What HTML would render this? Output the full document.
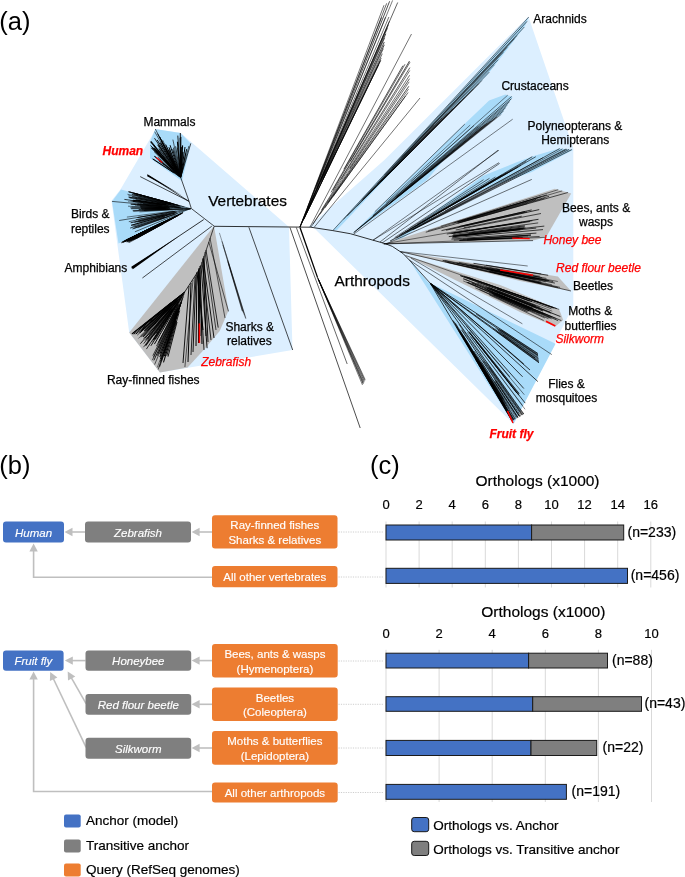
<!DOCTYPE html>
<html><head><meta charset="utf-8"><style>
html,body{margin:0;padding:0;background:#fff;}
svg{display:block;}
text{font-family:"Liberation Sans",Arial,sans-serif;}
</style></head><body>
<svg width="685" height="877" viewBox="0 0 685 877">
<rect width="685" height="877" fill="#fff"/>
<g id="tree">
<polygon points="155.5,129.6 180.5,132.8 289.0,227.0 292.5,350.0 160.0,372.4 129.2,332.4 111.5,200.8 120.4,189.4" fill="#dcefff"/>
<polygon points="155.3,128.9 180.3,132.9 190.8,143.4 182.0,181.0 150.0,158.3 150.0,142.0" fill="#a9dbf9"/>
<polygon points="121.0,189.4 191.3,208.5 118.5,243.5 112.0,201.4" fill="#a9dbf9"/>
<polygon points="214.0,226.0 228.5,310.5 219.7,331.0 205.0,348.5 187.6,367.4 159.9,372.4 129.2,332.4" fill="#bfbfbf"/>
<polygon points="308.0,227.3 384.4,160.0 528.4,16.5 573.3,148.0 573.3,306.0 513.5,424.0 314.0,228.0" fill="#dcefff"/>
<polygon points="528.8,17.0 333.0,230.0 337.0,230.0 394.8,168.8 432.0,126.7 451.9,109.3 478.0,84.5 486.7,75.8 525.1,26.1" fill="#a9dbf9"/>
<polygon points="505.3,94.4 512.7,96.9 501.5,114.2 481.7,126.7 444.5,158.9 427.0,180.0 352.0,234.0 407.2,180.0 464.3,124.2 489.1,100.6" fill="#a9dbf9"/>
<polygon points="559.2,148.6 573.4,149.7 531.8,172.0 482.5,190.0 440.0,212.0 400.0,240.0 395.0,240.0 430.0,215.0 482.5,176.0 515.4,162.8 532.9,156.3" fill="#a9dbf9"/>
<polygon points="409.3,260.0 428.0,282.0 555.6,343.7 513.5,424.0" fill="#a9dbf9"/>
<polygon points="383.8,243.9 554.8,188.7 571.2,193.5 546.0,237.3 533.0,240.6" fill="#bfbfbf"/>
<polygon points="400.3,251.6 557.9,276.5 571.0,291.0 520.0,281.0" fill="#bfbfbf"/>
<polygon points="405.5,255.5 500.0,285.0 559.2,309.4 563.2,320.0 555.3,326.5 520.0,312.0" fill="#bfbfbf"/>
<line x1="180.0" y1="177.0" x2="153.5" y2="159.1" stroke="#000" stroke-width="0.54"/>
<line x1="179.0" y1="176.3" x2="158.5" y2="160.7" stroke="#000" stroke-width="0.75"/>
<line x1="178.7" y1="175.9" x2="158.4" y2="159.5" stroke="#000" stroke-width="0.55"/>
<line x1="177.0" y1="174.2" x2="157.9" y2="157.2" stroke="#000" stroke-width="0.61"/>
<line x1="176.4" y1="173.3" x2="154.1" y2="151.6" stroke="#000" stroke-width="0.70"/>
<line x1="180.5" y1="177.3" x2="151.7" y2="146.8" stroke="#000" stroke-width="0.64"/>
<line x1="180.2" y1="176.9" x2="156.3" y2="150.8" stroke="#000" stroke-width="0.91"/>
<line x1="178.1" y1="174.4" x2="153.6" y2="145.8" stroke="#000" stroke-width="0.69"/>
<line x1="180.4" y1="177.1" x2="159.1" y2="149.7" stroke="#000" stroke-width="0.60"/>
<line x1="178.9" y1="174.9" x2="157.7" y2="145.2" stroke="#000" stroke-width="0.79"/>
<line x1="179.4" y1="175.6" x2="154.5" y2="138.2" stroke="#000" stroke-width="0.85"/>
<line x1="178.4" y1="173.8" x2="157.2" y2="139.9" stroke="#000" stroke-width="0.94"/>
<line x1="179.6" y1="175.5" x2="154.7" y2="131.7" stroke="#000" stroke-width="0.56"/>
<line x1="177.8" y1="172.1" x2="161.2" y2="141.2" stroke="#000" stroke-width="0.74"/>
<line x1="178.2" y1="172.8" x2="157.6" y2="133.7" stroke="#000" stroke-width="0.79"/>
<line x1="179.6" y1="175.4" x2="159.7" y2="137.1" stroke="#000" stroke-width="0.80"/>
<line x1="179.2" y1="174.6" x2="159.6" y2="136.8" stroke="#000" stroke-width="0.97"/>
<line x1="178.6" y1="173.4" x2="165.2" y2="147.3" stroke="#000" stroke-width="0.85"/>
<line x1="177.8" y1="171.6" x2="162.5" y2="140.0" stroke="#000" stroke-width="0.64"/>
<line x1="178.9" y1="173.6" x2="167.9" y2="149.6" stroke="#000" stroke-width="0.73"/>
<line x1="180.4" y1="176.8" x2="168.9" y2="149.9" stroke="#000" stroke-width="0.88"/>
<line x1="180.2" y1="176.1" x2="168.9" y2="147.2" stroke="#000" stroke-width="0.94"/>
<line x1="179.9" y1="175.0" x2="170.1" y2="145.2" stroke="#000" stroke-width="0.94"/>
<line x1="179.5" y1="172.6" x2="173.4" y2="147.6" stroke="#000" stroke-width="0.71"/>
<line x1="179.7" y1="172.4" x2="172.9" y2="139.6" stroke="#000" stroke-width="0.58"/>
<line x1="180.5" y1="176.1" x2="175.6" y2="146.3" stroke="#000" stroke-width="0.74"/>
<line x1="180.5" y1="175.9" x2="177.4" y2="147.5" stroke="#000" stroke-width="0.71"/>
<line x1="180.4" y1="173.9" x2="177.8" y2="135.6" stroke="#000" stroke-width="0.85"/>
<line x1="180.6" y1="173.5" x2="179.8" y2="137.8" stroke="#000" stroke-width="0.53"/>
<line x1="180.7" y1="172.6" x2="180.9" y2="136.9" stroke="#000" stroke-width="0.90"/>
<line x1="180.7" y1="175.1" x2="181.1" y2="147.1" stroke="#000" stroke-width="0.82"/>
<line x1="180.7" y1="177.1" x2="181.5" y2="147.2" stroke="#000" stroke-width="0.58"/>
<line x1="180.7" y1="177.2" x2="182.0" y2="151.2" stroke="#000" stroke-width="0.58"/>
<line x1="180.8" y1="175.6" x2="182.4" y2="152.2" stroke="#000" stroke-width="0.94"/>
<line x1="180.8" y1="176.8" x2="183.2" y2="152.1" stroke="#000" stroke-width="0.67"/>
<line x1="180.8" y1="176.9" x2="185.0" y2="147.0" stroke="#000" stroke-width="1.00"/>
<line x1="181.2" y1="175.1" x2="185.7" y2="153.3" stroke="#000" stroke-width="0.55"/>
<line x1="181.0" y1="176.2" x2="188.9" y2="146.0" stroke="#000" stroke-width="0.58"/>
<line x1="175.3" y1="173.0" x2="154.9" y2="156.3" stroke="#000" stroke-width="0.67"/>
<line x1="180.6" y1="177.3" x2="156.3" y2="151.2" stroke="#000" stroke-width="1.09"/>
<line x1="177.1" y1="172.8" x2="158.9" y2="148.5" stroke="#000" stroke-width="0.78"/>
<line x1="176.8" y1="171.9" x2="158.1" y2="144.4" stroke="#000" stroke-width="0.99"/>
<line x1="179.8" y1="175.9" x2="160.4" y2="142.7" stroke="#000" stroke-width="1.09"/>
<line x1="178.2" y1="172.0" x2="165.7" y2="144.5" stroke="#000" stroke-width="0.97"/>
<line x1="179.4" y1="174.0" x2="169.4" y2="148.5" stroke="#000" stroke-width="0.61"/>
<line x1="180.2" y1="175.6" x2="172.7" y2="149.3" stroke="#000" stroke-width="0.95"/>
<line x1="180.4" y1="174.3" x2="177.4" y2="141.8" stroke="#000" stroke-width="1.09"/>
<line x1="180.7" y1="174.8" x2="181.0" y2="146.7" stroke="#000" stroke-width="0.71"/>
<line x1="180.8" y1="176.1" x2="182.6" y2="145.4" stroke="#000" stroke-width="1.05"/>
<line x1="181.3" y1="174.6" x2="186.6" y2="149.2" stroke="#000" stroke-width="1.00"/>
<line x1="180.7" y1="177.5" x2="155.3" y2="129.0" stroke="#000" stroke-width="0.60"/>
<line x1="173.7" y1="168.9" x2="150.9" y2="141.1" stroke="#000" stroke-width="0.91"/>
<line x1="174.8" y1="172.8" x2="154.2" y2="156.2" stroke="#000" stroke-width="0.92"/>
<line x1="172.8" y1="169.1" x2="150.6" y2="145.5" stroke="#000" stroke-width="0.76"/>
<line x1="172.0" y1="168.6" x2="151.7" y2="147.9" stroke="#000" stroke-width="0.67"/>
<line x1="176.8" y1="172.8" x2="150.9" y2="141.9" stroke="#000" stroke-width="0.92"/>
<line x1="172.7" y1="168.0" x2="150.6" y2="141.9" stroke="#000" stroke-width="0.86"/>
<line x1="174.4" y1="170.8" x2="154.4" y2="149.8" stroke="#000" stroke-width="0.61"/>
<line x1="173.8" y1="172.9" x2="152.6" y2="158.9" stroke="#000" stroke-width="0.97"/>
<line x1="172.4" y1="169.2" x2="151.3" y2="148.0" stroke="#000" stroke-width="0.68"/>
<line x1="175.9" y1="172.2" x2="153.9" y2="147.6" stroke="#000" stroke-width="0.83"/>
<line x1="175.1" y1="171.3" x2="154.4" y2="148.3" stroke="#000" stroke-width="0.96"/>
<line x1="174.9" y1="171.4" x2="152.4" y2="147.7" stroke="#000" stroke-width="0.96"/>
<line x1="180.7" y1="177.5" x2="180.3" y2="133.0" stroke="#000" stroke-width="0.90"/>
<line x1="180.7" y1="177.5" x2="190.8" y2="143.4" stroke="#000" stroke-width="0.70"/>
<line x1="180.7" y1="177.5" x2="189.1" y2="201.4" stroke="#000" stroke-width="0.70"/>
<line x1="189.1" y1="201.4" x2="191.3" y2="208.5" stroke="#000" stroke-width="0.70"/>
<line x1="189.1" y1="201.4" x2="140.2" y2="176.6" stroke="#000" stroke-width="0.70"/>
<line x1="189.1" y1="201.4" x2="147.5" y2="175.1" stroke="#000" stroke-width="0.70"/>
<polygon points="147.5,174.3 147.2,176.3 182,195.5" fill="#000"/>
<line x1="168.6" y1="202.6" x2="128.4" y2="191.6" stroke="#000" stroke-width="0.61"/>
<line x1="190.4" y1="208.6" x2="130.2" y2="192.1" stroke="#000" stroke-width="0.47"/>
<line x1="171.9" y1="203.5" x2="134.4" y2="193.3" stroke="#000" stroke-width="0.59"/>
<line x1="177.9" y1="205.2" x2="133.5" y2="193.1" stroke="#000" stroke-width="0.61"/>
<line x1="172.9" y1="203.8" x2="137.1" y2="194.1" stroke="#000" stroke-width="0.62"/>
<line x1="184.5" y1="207.0" x2="129.1" y2="191.9" stroke="#000" stroke-width="0.60"/>
<line x1="173.9" y1="204.1" x2="128.4" y2="191.8" stroke="#000" stroke-width="0.58"/>
<line x1="179.6" y1="205.8" x2="133.6" y2="193.8" stroke="#000" stroke-width="0.68"/>
<line x1="178.9" y1="205.8" x2="133.7" y2="194.6" stroke="#000" stroke-width="0.78"/>
<line x1="171.1" y1="204.2" x2="127.4" y2="194.2" stroke="#000" stroke-width="0.50"/>
<line x1="169.5" y1="204.1" x2="128.3" y2="195.3" stroke="#000" stroke-width="0.45"/>
<line x1="180.8" y1="206.7" x2="138.0" y2="198.0" stroke="#000" stroke-width="0.50"/>
<line x1="175.5" y1="205.8" x2="128.4" y2="197.0" stroke="#000" stroke-width="0.76"/>
<line x1="174.3" y1="205.9" x2="129.6" y2="198.2" stroke="#000" stroke-width="0.46"/>
<line x1="168.4" y1="205.3" x2="134.9" y2="200.3" stroke="#000" stroke-width="0.78"/>
<line x1="179.5" y1="207.1" x2="124.4" y2="199.4" stroke="#000" stroke-width="0.73"/>
<line x1="180.7" y1="207.4" x2="130.5" y2="201.0" stroke="#000" stroke-width="0.54"/>
<line x1="183.4" y1="207.9" x2="128.0" y2="201.6" stroke="#000" stroke-width="0.41"/>
<line x1="180.6" y1="207.7" x2="137.6" y2="203.6" stroke="#000" stroke-width="0.53"/>
<line x1="179.0" y1="207.7" x2="137.2" y2="204.3" stroke="#000" stroke-width="0.79"/>
<line x1="168.5" y1="207.2" x2="137.0" y2="205.1" stroke="#000" stroke-width="0.51"/>
<line x1="173.0" y1="207.7" x2="134.9" y2="205.4" stroke="#000" stroke-width="0.45"/>
<line x1="170.0" y1="207.9" x2="128.0" y2="206.2" stroke="#000" stroke-width="0.50"/>
<line x1="169.9" y1="208.1" x2="131.5" y2="207.0" stroke="#000" stroke-width="0.68"/>
<line x1="189.5" y1="208.7" x2="130.2" y2="207.8" stroke="#000" stroke-width="0.57"/>
<line x1="169.7" y1="208.7" x2="131.1" y2="208.7" stroke="#000" stroke-width="0.72"/>
<line x1="171.6" y1="209.0" x2="138.7" y2="209.5" stroke="#000" stroke-width="0.75"/>
<line x1="183.2" y1="209.0" x2="132.7" y2="210.7" stroke="#000" stroke-width="0.77"/>
<line x1="187.9" y1="208.8" x2="133.3" y2="211.4" stroke="#000" stroke-width="0.50"/>
<line x1="187.2" y1="208.9" x2="139.5" y2="211.9" stroke="#000" stroke-width="0.48"/>
<line x1="168.1" y1="203.2" x2="131.8" y2="194.4" stroke="#000" stroke-width="0.74"/>
<line x1="169.7" y1="204.0" x2="138.3" y2="197.1" stroke="#000" stroke-width="0.61"/>
<line x1="171.8" y1="204.8" x2="132.2" y2="196.7" stroke="#000" stroke-width="0.88"/>
<line x1="166.0" y1="204.1" x2="129.0" y2="197.2" stroke="#000" stroke-width="0.65"/>
<line x1="166.5" y1="204.8" x2="135.9" y2="199.9" stroke="#000" stroke-width="1.02"/>
<line x1="165.6" y1="205.0" x2="132.9" y2="200.2" stroke="#000" stroke-width="1.09"/>
<line x1="161.6" y1="205.0" x2="132.7" y2="201.3" stroke="#000" stroke-width="0.92"/>
<line x1="167.7" y1="206.2" x2="143.1" y2="203.5" stroke="#000" stroke-width="0.66"/>
<line x1="162.9" y1="206.1" x2="140.1" y2="203.9" stroke="#000" stroke-width="0.68"/>
<line x1="161.7" y1="206.5" x2="130.7" y2="204.2" stroke="#000" stroke-width="0.94"/>
<line x1="169.2" y1="207.5" x2="139.8" y2="205.9" stroke="#000" stroke-width="0.83"/>
<line x1="166.8" y1="207.8" x2="140.4" y2="206.9" stroke="#000" stroke-width="1.08"/>
<line x1="165.6" y1="208.5" x2="141.0" y2="208.3" stroke="#000" stroke-width="1.08"/>
<line x1="168.0" y1="208.8" x2="144.8" y2="208.9" stroke="#000" stroke-width="0.79"/>
<line x1="166.3" y1="209.3" x2="141.9" y2="209.9" stroke="#000" stroke-width="0.85"/>
<line x1="169.3" y1="209.5" x2="143.7" y2="210.5" stroke="#000" stroke-width="0.80"/>
<line x1="183.0" y1="212.5" x2="126.1" y2="239.9" stroke="#000" stroke-width="0.62"/>
<line x1="170.4" y1="218.6" x2="121.8" y2="242.2" stroke="#000" stroke-width="0.83"/>
<line x1="161.8" y1="222.9" x2="126.1" y2="240.2" stroke="#000" stroke-width="0.66"/>
<line x1="180.0" y1="214.0" x2="123.0" y2="242.0" stroke="#000" stroke-width="0.82"/>
<line x1="163.1" y1="222.3" x2="121.4" y2="242.8" stroke="#000" stroke-width="0.81"/>
<line x1="163.9" y1="222.0" x2="129.9" y2="238.9" stroke="#000" stroke-width="0.76"/>
<line x1="163.5" y1="222.3" x2="123.3" y2="242.3" stroke="#000" stroke-width="0.91"/>
<line x1="162.3" y1="223.0" x2="125.0" y2="241.6" stroke="#000" stroke-width="0.85"/>
<line x1="183.2" y1="212.5" x2="130.9" y2="238.8" stroke="#000" stroke-width="0.68"/>
<line x1="163.9" y1="222.3" x2="126.9" y2="241.0" stroke="#000" stroke-width="0.81"/>
<line x1="167.8" y1="220.4" x2="128.1" y2="240.6" stroke="#000" stroke-width="0.50"/>
<line x1="166.4" y1="221.2" x2="128.4" y2="240.6" stroke="#000" stroke-width="0.77"/>
<line x1="182.5" y1="212.9" x2="126.4" y2="241.8" stroke="#000" stroke-width="0.63"/>
<line x1="177.9" y1="215.3" x2="126.8" y2="241.7" stroke="#000" stroke-width="0.60"/>
<line x1="161.6" y1="223.9" x2="129.7" y2="240.5" stroke="#000" stroke-width="0.69"/>
<line x1="168.5" y1="220.4" x2="127.3" y2="241.9" stroke="#000" stroke-width="0.81"/>
<line x1="182.5" y1="213.1" x2="133.8" y2="238.6" stroke="#000" stroke-width="0.63"/>
<line x1="177.4" y1="215.8" x2="130.1" y2="240.8" stroke="#000" stroke-width="0.51"/>
<line x1="178.3" y1="215.4" x2="129.3" y2="241.3" stroke="#000" stroke-width="0.85"/>
<line x1="177.9" y1="215.6" x2="131.4" y2="240.5" stroke="#000" stroke-width="0.73"/>
<line x1="181.8" y1="213.5" x2="128.1" y2="242.4" stroke="#000" stroke-width="0.60"/>
<line x1="163.8" y1="223.3" x2="137.0" y2="237.9" stroke="#000" stroke-width="0.73"/>
<line x1="163.3" y1="223.7" x2="133.2" y2="240.0" stroke="#000" stroke-width="0.63"/>
<line x1="163.9" y1="223.4" x2="135.7" y2="238.8" stroke="#000" stroke-width="0.79"/>
<line x1="173.2" y1="218.4" x2="129.1" y2="242.6" stroke="#000" stroke-width="0.57"/>
<line x1="160.0" y1="223.6" x2="124.2" y2="241.0" stroke="#000" stroke-width="0.95"/>
<line x1="155.1" y1="226.1" x2="130.3" y2="238.1" stroke="#000" stroke-width="0.61"/>
<line x1="160.9" y1="223.2" x2="131.5" y2="237.6" stroke="#000" stroke-width="0.75"/>
<line x1="163.4" y1="222.1" x2="134.2" y2="236.3" stroke="#000" stroke-width="1.02"/>
<line x1="158.5" y1="224.5" x2="128.3" y2="239.3" stroke="#000" stroke-width="0.66"/>
<line x1="159.7" y1="224.0" x2="129.0" y2="239.1" stroke="#000" stroke-width="0.74"/>
<line x1="164.1" y1="221.9" x2="128.4" y2="239.4" stroke="#000" stroke-width="0.89"/>
<line x1="164.1" y1="221.9" x2="138.3" y2="234.6" stroke="#000" stroke-width="0.62"/>
<line x1="159.5" y1="224.2" x2="138.9" y2="234.4" stroke="#000" stroke-width="1.07"/>
<line x1="166.8" y1="220.6" x2="137.2" y2="235.4" stroke="#000" stroke-width="0.69"/>
<line x1="163.8" y1="215.1" x2="130.6" y2="222.8" stroke="#000" stroke-width="0.82"/>
<line x1="164.5" y1="217.1" x2="130.1" y2="228.1" stroke="#000" stroke-width="0.70"/>
<line x1="177.7" y1="213.3" x2="132.4" y2="229.0" stroke="#000" stroke-width="0.65"/>
<line x1="168.5" y1="216.7" x2="137.8" y2="227.7" stroke="#000" stroke-width="0.47"/>
<line x1="176.3" y1="214.7" x2="134.9" y2="231.8" stroke="#000" stroke-width="0.60"/>
<line x1="166.8" y1="213.7" x2="128.8" y2="221.7" stroke="#000" stroke-width="0.57"/>
<line x1="173.9" y1="214.3" x2="134.7" y2="227.1" stroke="#000" stroke-width="0.63"/>
<line x1="175.6" y1="211.2" x2="137.5" y2="217.5" stroke="#000" stroke-width="0.86"/>
<line x1="175.3" y1="213.0" x2="131.0" y2="225.3" stroke="#000" stroke-width="0.90"/>
<line x1="176.5" y1="212.4" x2="139.7" y2="222.1" stroke="#000" stroke-width="0.49"/>
<line x1="177.0" y1="211.8" x2="138.3" y2="220.5" stroke="#000" stroke-width="0.57"/>
<line x1="165.0" y1="216.5" x2="132.7" y2="226.2" stroke="#000" stroke-width="0.64"/>
<line x1="170.5" y1="213.7" x2="137.2" y2="222.1" stroke="#000" stroke-width="0.60"/>
<line x1="173.5" y1="211.0" x2="126.9" y2="217.1" stroke="#000" stroke-width="0.51"/>
<line x1="169.0" y1="214.8" x2="131.5" y2="225.3" stroke="#000" stroke-width="0.55"/>
<line x1="174.4" y1="212.0" x2="135.8" y2="219.7" stroke="#000" stroke-width="0.65"/>
<line x1="190.8" y1="208.7" x2="112.0" y2="201.4" stroke="#000" stroke-width="0.60"/>
<line x1="190.8" y1="208.7" x2="119.2" y2="220.5" stroke="#000" stroke-width="0.60"/>
<line x1="190.8" y1="208.7" x2="134.3" y2="222.5" stroke="#000" stroke-width="0.60"/>
<line x1="190.8" y1="208.7" x2="133.6" y2="228.4" stroke="#000" stroke-width="0.60"/>
<line x1="191.3" y1="208.5" x2="214.0" y2="226.0" stroke="#000" stroke-width="0.70"/>
<line x1="203.7" y1="219.6" x2="131.5" y2="267.8" stroke="#000" stroke-width="0.80"/>
<polygon points="180,235.5 131.3,266.8 132.8,269.2" fill="#000"/>
<line x1="211.8" y1="226.2" x2="142.4" y2="278.0" stroke="#000" stroke-width="0.70"/>
<line x1="214.0" y1="226.3" x2="310.0" y2="227.2" stroke="#000" stroke-width="0.80"/>
<line x1="214.0" y1="226.7" x2="200.3" y2="267.8" stroke="#000" stroke-width="0.70"/>
<line x1="200.3" y1="267.8" x2="184.9" y2="291.7" stroke="#000" stroke-width="0.80"/>
<line x1="180.3" y1="305.0" x2="158.9" y2="367.3" stroke="#000" stroke-width="0.51"/>
<line x1="177.3" y1="297.8" x2="132.9" y2="333.3" stroke="#000" stroke-width="0.74"/>
<line x1="184.9" y1="291.7" x2="154.4" y2="344.1" stroke="#000" stroke-width="0.96"/>
<line x1="179.7" y1="304.3" x2="154.6" y2="364.6" stroke="#000" stroke-width="0.62"/>
<line x1="183.3" y1="293.1" x2="141.3" y2="330.7" stroke="#000" stroke-width="0.84"/>
<line x1="181.0" y1="303.0" x2="160.4" y2="361.5" stroke="#000" stroke-width="0.88"/>
<line x1="180.4" y1="298.2" x2="155.8" y2="333.6" stroke="#000" stroke-width="0.89"/>
<line x1="176.3" y1="300.9" x2="143.0" y2="336.2" stroke="#000" stroke-width="0.65"/>
<line x1="182.4" y1="294.0" x2="140.1" y2="332.8" stroke="#000" stroke-width="0.85"/>
<line x1="184.2" y1="292.3" x2="141.3" y2="330.8" stroke="#000" stroke-width="0.79"/>
<line x1="183.0" y1="294.2" x2="147.3" y2="341.1" stroke="#000" stroke-width="0.51"/>
<line x1="180.8" y1="296.5" x2="140.4" y2="343.7" stroke="#000" stroke-width="0.82"/>
<line x1="182.1" y1="298.9" x2="162.6" y2="350.1" stroke="#000" stroke-width="0.62"/>
<line x1="181.1" y1="302.8" x2="163.7" y2="354.2" stroke="#000" stroke-width="0.51"/>
<line x1="179.5" y1="299.9" x2="152.1" y2="341.7" stroke="#000" stroke-width="0.63"/>
<line x1="178.4" y1="304.1" x2="158.0" y2="343.4" stroke="#000" stroke-width="0.52"/>
<line x1="181.2" y1="296.3" x2="145.1" y2="340.6" stroke="#000" stroke-width="0.60"/>
<line x1="180.3" y1="302.4" x2="158.2" y2="353.3" stroke="#000" stroke-width="0.60"/>
<line x1="183.2" y1="296.6" x2="159.8" y2="366.6" stroke="#000" stroke-width="0.62"/>
<line x1="177.7" y1="299.2" x2="147.7" y2="330.6" stroke="#000" stroke-width="0.98"/>
<line x1="183.4" y1="294.0" x2="154.4" y2="338.1" stroke="#000" stroke-width="0.71"/>
<line x1="178.2" y1="304.4" x2="158.8" y2="341.7" stroke="#000" stroke-width="0.70"/>
<line x1="175.7" y1="301.3" x2="149.7" y2="328.1" stroke="#000" stroke-width="0.53"/>
<line x1="180.8" y1="295.2" x2="133.8" y2="334.2" stroke="#000" stroke-width="0.94"/>
<line x1="178.3" y1="305.6" x2="152.4" y2="360.1" stroke="#000" stroke-width="0.66"/>
<line x1="175.9" y1="300.7" x2="140.4" y2="336.1" stroke="#000" stroke-width="0.52"/>
<line x1="182.2" y1="296.8" x2="156.4" y2="346.2" stroke="#000" stroke-width="0.67"/>
<line x1="184.9" y1="291.7" x2="146.7" y2="328.9" stroke="#000" stroke-width="0.68"/>
<line x1="184.2" y1="293.6" x2="158.2" y2="369.5" stroke="#000" stroke-width="0.60"/>
<line x1="177.7" y1="300.7" x2="143.7" y2="343.6" stroke="#000" stroke-width="0.72"/>
<line x1="179.9" y1="295.8" x2="141.8" y2="327.0" stroke="#000" stroke-width="0.96"/>
<line x1="181.4" y1="295.2" x2="138.4" y2="338.5" stroke="#000" stroke-width="0.52"/>
<line x1="178.1" y1="301.0" x2="145.8" y2="344.7" stroke="#000" stroke-width="0.52"/>
<line x1="184.2" y1="292.2" x2="132.6" y2="333.7" stroke="#000" stroke-width="0.63"/>
<line x1="179.0" y1="304.4" x2="158.6" y2="348.2" stroke="#000" stroke-width="0.64"/>
<line x1="181.6" y1="301.4" x2="164.0" y2="353.0" stroke="#000" stroke-width="0.86"/>
<line x1="182.4" y1="294.6" x2="153.6" y2="329.0" stroke="#000" stroke-width="0.88"/>
<line x1="181.3" y1="301.5" x2="157.3" y2="367.5" stroke="#000" stroke-width="0.51"/>
<line x1="171.8" y1="302.1" x2="131.9" y2="333.8" stroke="#000" stroke-width="1.08"/>
<line x1="174.3" y1="300.4" x2="139.7" y2="329.0" stroke="#000" stroke-width="0.85"/>
<line x1="175.3" y1="300.0" x2="135.8" y2="334.1" stroke="#000" stroke-width="0.97"/>
<line x1="169.4" y1="305.5" x2="139.0" y2="332.6" stroke="#000" stroke-width="0.76"/>
<line x1="173.7" y1="301.9" x2="137.3" y2="335.1" stroke="#000" stroke-width="0.64"/>
<line x1="170.0" y1="305.7" x2="144.7" y2="329.6" stroke="#000" stroke-width="0.63"/>
<line x1="172.2" y1="304.0" x2="144.3" y2="331.1" stroke="#000" stroke-width="1.09"/>
<line x1="168.4" y1="308.6" x2="146.1" y2="331.4" stroke="#000" stroke-width="0.64"/>
<line x1="173.1" y1="304.0" x2="141.2" y2="337.2" stroke="#000" stroke-width="0.82"/>
<line x1="174.1" y1="303.4" x2="143.1" y2="336.9" stroke="#000" stroke-width="0.94"/>
<line x1="170.5" y1="308.0" x2="143.5" y2="338.5" stroke="#000" stroke-width="0.66"/>
<line x1="175.6" y1="302.5" x2="145.3" y2="338.0" stroke="#000" stroke-width="0.79"/>
<line x1="176.6" y1="301.7" x2="149.4" y2="334.6" stroke="#000" stroke-width="0.72"/>
<line x1="170.8" y1="309.2" x2="146.2" y2="339.5" stroke="#000" stroke-width="0.76"/>
<line x1="170.1" y1="310.7" x2="147.7" y2="339.4" stroke="#000" stroke-width="0.72"/>
<line x1="173.3" y1="307.3" x2="143.5" y2="347.2" stroke="#000" stroke-width="0.65"/>
<line x1="172.1" y1="309.4" x2="145.6" y2="345.8" stroke="#000" stroke-width="1.06"/>
<line x1="176.5" y1="303.6" x2="153.4" y2="336.1" stroke="#000" stroke-width="0.69"/>
<line x1="174.4" y1="307.3" x2="146.4" y2="349.1" stroke="#000" stroke-width="0.79"/>
<line x1="175.7" y1="305.9" x2="153.5" y2="340.0" stroke="#000" stroke-width="0.99"/>
<line x1="178.4" y1="302.0" x2="150.9" y2="345.8" stroke="#000" stroke-width="0.91"/>
<line x1="176.5" y1="305.3" x2="155.5" y2="339.4" stroke="#000" stroke-width="0.70"/>
<line x1="173.9" y1="313.7" x2="152.8" y2="355.7" stroke="#000" stroke-width="0.70"/>
<line x1="176.0" y1="310.3" x2="153.4" y2="357.2" stroke="#000" stroke-width="0.69"/>
<line x1="177.1" y1="308.9" x2="153.9" y2="360.4" stroke="#000" stroke-width="0.87"/>
<line x1="178.0" y1="307.7" x2="157.3" y2="355.7" stroke="#000" stroke-width="0.88"/>
<line x1="178.3" y1="308.0" x2="159.9" y2="353.9" stroke="#000" stroke-width="0.95"/>
<line x1="177.4" y1="311.2" x2="159.8" y2="357.1" stroke="#000" stroke-width="1.08"/>
<line x1="176.1" y1="315.9" x2="160.4" y2="359.0" stroke="#000" stroke-width="0.81"/>
<line x1="174.2" y1="323.3" x2="161.6" y2="360.7" stroke="#000" stroke-width="0.70"/>
<line x1="178.7" y1="311.1" x2="164.3" y2="356.1" stroke="#000" stroke-width="1.05"/>
<line x1="176.1" y1="320.9" x2="163.5" y2="362.3" stroke="#000" stroke-width="1.04"/>
<line x1="179.7" y1="310.3" x2="166.8" y2="355.8" stroke="#000" stroke-width="0.88"/>
<line x1="177.0" y1="322.0" x2="168.0" y2="356.7" stroke="#000" stroke-width="0.91"/>
<line x1="208.8" y1="242.0" x2="228.5" y2="311.4" stroke="#000" stroke-width="0.60"/>
<line x1="210.0" y1="238.0" x2="225.0" y2="318.0" stroke="#000" stroke-width="0.60"/>
<line x1="206.0" y1="250.0" x2="218.2" y2="327.6" stroke="#000" stroke-width="0.80"/>
<line x1="205.0" y1="252.0" x2="216.0" y2="330.0" stroke="#000" stroke-width="0.70"/>
<line x1="203.0" y1="258.0" x2="214.0" y2="338.0" stroke="#000" stroke-width="0.90"/>
<line x1="202.0" y1="262.0" x2="211.0" y2="340.0" stroke="#000" stroke-width="0.80"/>
<line x1="201.0" y1="265.0" x2="207.1" y2="348.2" stroke="#000" stroke-width="0.90"/>
<line x1="199.0" y1="270.0" x2="204.0" y2="350.0" stroke="#000" stroke-width="0.80"/>
<line x1="198.6" y1="269.5" x2="198.6" y2="343.0" stroke="#000" stroke-width="1.10"/>
<line x1="197.0" y1="273.0" x2="196.0" y2="346.0" stroke="#000" stroke-width="1.00"/>
<line x1="196.0" y1="275.0" x2="193.0" y2="352.0" stroke="#000" stroke-width="0.90"/>
<line x1="195.0" y1="277.0" x2="191.0" y2="355.0" stroke="#000" stroke-width="0.80"/>
<line x1="193.0" y1="280.0" x2="184.9" y2="367.0" stroke="#000" stroke-width="0.60"/>
<line x1="191.0" y1="283.0" x2="188.0" y2="362.0" stroke="#000" stroke-width="1.00"/>
<line x1="189.0" y1="286.0" x2="183.0" y2="363.0" stroke="#000" stroke-width="0.90"/>
<line x1="200.0" y1="266.0" x2="202.0" y2="344.0" stroke="#000" stroke-width="1.10"/>
<line x1="204.0" y1="256.0" x2="208.0" y2="342.0" stroke="#000" stroke-width="0.90"/>
<line x1="199.0" y1="268.0" x2="200.0" y2="336.0" stroke="#000" stroke-width="1.00"/>
<line x1="197.0" y1="272.0" x2="203.0" y2="330.0" stroke="#000" stroke-width="1.00"/>
<line x1="203.0" y1="259.0" x2="206.0" y2="336.0" stroke="#000" stroke-width="1.00"/>
<line x1="222.9" y1="245.0" x2="242.2" y2="310.9" stroke="#000" stroke-width="0.39"/>
<line x1="227.5" y1="260.3" x2="242.6" y2="311.4" stroke="#000" stroke-width="0.42"/>
<line x1="228.1" y1="262.1" x2="243.3" y2="312.7" stroke="#000" stroke-width="0.37"/>
<line x1="228.4" y1="262.7" x2="244.4" y2="315.2" stroke="#000" stroke-width="0.36"/>
<line x1="222.0" y1="241.3" x2="245.7" y2="318.6" stroke="#000" stroke-width="0.44"/>
<line x1="219.4" y1="232.9" x2="245.9" y2="318.4" stroke="#000" stroke-width="0.38"/>
<line x1="248.9" y1="227.3" x2="292.7" y2="350.0" stroke="#000" stroke-width="0.70"/>
<path d="M310,227.1 L332.8,230.6 L350.3,233.7 L373,240.2 L385.3,243.7 L392.3,246.4 L402.9,253.4 L409.3,260" stroke="#000" stroke-width="0.8" fill="none"/>
<line x1="300.0" y1="227.0" x2="384.0" y2="5.2" stroke="#000" stroke-width="0.54"/>
<line x1="300.0" y1="227.0" x2="386.7" y2="3.3" stroke="#000" stroke-width="0.58"/>
<line x1="300.0" y1="227.0" x2="389.6" y2="1.3" stroke="#000" stroke-width="0.68"/>
<line x1="300.0" y1="227.0" x2="392.6" y2="0.4" stroke="#000" stroke-width="0.51"/>
<line x1="300.0" y1="227.0" x2="397.7" y2="2.5" stroke="#000" stroke-width="0.61"/>
<line x1="307.5" y1="207.7" x2="381.6" y2="17.4" stroke="#000" stroke-width="0.62"/>
<line x1="316.9" y1="185.5" x2="385.5" y2="17.2" stroke="#000" stroke-width="0.59"/>
<line x1="316.5" y1="188.0" x2="388.9" y2="17.0" stroke="#000" stroke-width="0.55"/>
<line x1="320.9" y1="178.9" x2="389.4" y2="21.3" stroke="#000" stroke-width="0.54"/>
<line x1="302.8" y1="220.5" x2="388.4" y2="24.8" stroke="#000" stroke-width="0.59"/>
<line x1="311.6" y1="200.6" x2="387.5" y2="28.1" stroke="#000" stroke-width="0.51"/>
<line x1="302.1" y1="222.2" x2="385.8" y2="33.8" stroke="#000" stroke-width="0.66"/>
<line x1="301.4" y1="223.9" x2="384.7" y2="37.8" stroke="#000" stroke-width="0.58"/>
<line x1="303.4" y1="219.4" x2="384.3" y2="42.0" stroke="#000" stroke-width="0.70"/>
<line x1="320.6" y1="182.5" x2="384.3" y2="44.8" stroke="#000" stroke-width="0.70"/>
<line x1="323.9" y1="175.8" x2="383.4" y2="48.6" stroke="#000" stroke-width="0.53"/>
<line x1="323.0" y1="178.6" x2="382.3" y2="53.7" stroke="#000" stroke-width="0.57"/>
<line x1="303.9" y1="218.9" x2="381.3" y2="57.9" stroke="#000" stroke-width="0.55"/>
<line x1="303.5" y1="219.8" x2="380.8" y2="60.2" stroke="#000" stroke-width="0.68"/>
<line x1="306.3" y1="213.9" x2="380.1" y2="61.2" stroke="#000" stroke-width="0.56"/>
<line x1="304.3" y1="218.1" x2="378.5" y2="64.9" stroke="#000" stroke-width="0.69"/>
<line x1="310.0" y1="227.0" x2="411.5" y2="34.0" stroke="#000" stroke-width="0.55"/>
<line x1="343.9" y1="169.2" x2="402.9" y2="65.7" stroke="#000" stroke-width="0.66"/>
<line x1="331.0" y1="192.4" x2="405.0" y2="64.2" stroke="#000" stroke-width="0.57"/>
<line x1="332.9" y1="190.1" x2="409.5" y2="61.0" stroke="#000" stroke-width="0.68"/>
<line x1="350.3" y1="161.5" x2="410.0" y2="62.2" stroke="#000" stroke-width="0.58"/>
<line x1="321.5" y1="210.1" x2="409.9" y2="67.6" stroke="#000" stroke-width="0.62"/>
<line x1="341.2" y1="179.1" x2="409.8" y2="70.5" stroke="#000" stroke-width="0.54"/>
<line x1="312.9" y1="224.1" x2="409.7" y2="75.2" stroke="#000" stroke-width="0.55"/>
<line x1="349.8" y1="168.6" x2="409.5" y2="78.7" stroke="#000" stroke-width="0.63"/>
<line x1="311.1" y1="226.9" x2="409.2" y2="81.8" stroke="#000" stroke-width="0.53"/>
<line x1="327.9" y1="202.7" x2="408.8" y2="86.3" stroke="#000" stroke-width="0.68"/>
<line x1="319.9" y1="214.5" x2="408.6" y2="89.0" stroke="#000" stroke-width="0.50"/>
<line x1="324.8" y1="207.9" x2="408.1" y2="92.5" stroke="#000" stroke-width="0.57"/>
<line x1="333.1" y1="196.4" x2="405.5" y2="96.0" stroke="#000" stroke-width="0.54"/>
<line x1="314.4" y1="227.0" x2="420.0" y2="98.0" stroke="#000" stroke-width="0.55"/>
<line x1="384.5" y1="174.9" x2="527.0" y2="21.4" stroke="#000" stroke-width="0.59"/>
<line x1="362.0" y1="199.6" x2="524.3" y2="27.0" stroke="#000" stroke-width="0.53"/>
<line x1="401.7" y1="157.7" x2="517.1" y2="35.6" stroke="#000" stroke-width="0.45"/>
<line x1="392.0" y1="168.1" x2="514.5" y2="38.7" stroke="#000" stroke-width="0.47"/>
<line x1="377.3" y1="183.8" x2="507.2" y2="47.3" stroke="#000" stroke-width="0.55"/>
<line x1="403.8" y1="156.4" x2="503.4" y2="52.3" stroke="#000" stroke-width="0.51"/>
<line x1="363.1" y1="199.3" x2="498.2" y2="59.6" stroke="#000" stroke-width="0.56"/>
<line x1="380.2" y1="182.0" x2="494.6" y2="64.7" stroke="#000" stroke-width="0.43"/>
<line x1="381.8" y1="181.0" x2="489.3" y2="72.1" stroke="#000" stroke-width="0.53"/>
<line x1="356.8" y1="206.4" x2="482.0" y2="80.5" stroke="#000" stroke-width="0.46"/>
<line x1="392.9" y1="170.2" x2="478.9" y2="83.6" stroke="#000" stroke-width="0.54"/>
<line x1="388.3" y1="174.7" x2="473.1" y2="89.2" stroke="#000" stroke-width="0.49"/>
<line x1="366.9" y1="196.2" x2="464.6" y2="97.4" stroke="#000" stroke-width="0.42"/>
<line x1="347.3" y1="215.9" x2="460.5" y2="101.3" stroke="#000" stroke-width="0.55"/>
<line x1="380.3" y1="182.2" x2="452.8" y2="108.4" stroke="#000" stroke-width="0.45"/>
<line x1="361.7" y1="201.0" x2="447.2" y2="113.4" stroke="#000" stroke-width="0.50"/>
<line x1="368.3" y1="194.0" x2="442.1" y2="117.9" stroke="#000" stroke-width="0.44"/>
<line x1="343.4" y1="219.5" x2="433.7" y2="125.2" stroke="#000" stroke-width="0.45"/>
<line x1="332.8" y1="230.6" x2="528.8" y2="17.0" stroke="#000" stroke-width="0.50"/>
<line x1="410.8" y1="181.6" x2="507.7" y2="95.2" stroke="#000" stroke-width="0.47"/>
<line x1="373.0" y1="215.9" x2="511.6" y2="96.5" stroke="#000" stroke-width="0.58"/>
<line x1="396.2" y1="196.5" x2="511.5" y2="98.7" stroke="#000" stroke-width="0.60"/>
<line x1="404.9" y1="189.6" x2="509.6" y2="101.7" stroke="#000" stroke-width="0.57"/>
<line x1="397.1" y1="196.6" x2="507.5" y2="104.9" stroke="#000" stroke-width="0.46"/>
<line x1="390.3" y1="202.5" x2="505.7" y2="107.7" stroke="#000" stroke-width="0.58"/>
<line x1="353.6" y1="232.7" x2="503.7" y2="110.8" stroke="#000" stroke-width="0.59"/>
<line x1="360.5" y1="227.2" x2="501.3" y2="114.3" stroke="#000" stroke-width="0.41"/>
<line x1="388.8" y1="204.3" x2="497.3" y2="116.8" stroke="#000" stroke-width="0.55"/>
<line x1="385.8" y1="206.6" x2="495.3" y2="118.1" stroke="#000" stroke-width="0.56"/>
<line x1="401.4" y1="193.8" x2="490.5" y2="121.1" stroke="#000" stroke-width="0.57"/>
<line x1="403.0" y1="192.2" x2="487.0" y2="123.3" stroke="#000" stroke-width="0.44"/>
<line x1="353.8" y1="232.5" x2="485.3" y2="124.4" stroke="#000" stroke-width="0.56"/>
<line x1="394.5" y1="198.5" x2="480.9" y2="126.6" stroke="#000" stroke-width="0.46"/>
<line x1="356.9" y1="229.8" x2="478.3" y2="126.2" stroke="#000" stroke-width="0.44"/>
<line x1="372.7" y1="215.6" x2="474.0" y2="125.5" stroke="#000" stroke-width="0.45"/>
<line x1="385.9" y1="202.8" x2="470.2" y2="125.0" stroke="#000" stroke-width="0.46"/>
<line x1="374.7" y1="211.9" x2="464.8" y2="124.1" stroke="#000" stroke-width="0.52"/>
<line x1="353.8" y1="234.0" x2="512.7" y2="119.2" stroke="#000" stroke-width="0.50"/>
<line x1="373.0" y1="240.2" x2="499.0" y2="150.2" stroke="#000" stroke-width="0.50"/>
<line x1="373.0" y1="240.2" x2="499.0" y2="162.6" stroke="#000" stroke-width="0.50"/>
<line x1="406.9" y1="231.9" x2="559.7" y2="148.6" stroke="#000" stroke-width="0.64"/>
<line x1="422.8" y1="223.7" x2="562.5" y2="148.9" stroke="#000" stroke-width="0.50"/>
<line x1="390.2" y1="241.1" x2="565.6" y2="149.1" stroke="#000" stroke-width="0.49"/>
<line x1="396.3" y1="238.0" x2="566.8" y2="149.2" stroke="#000" stroke-width="0.69"/>
<line x1="412.4" y1="229.8" x2="569.1" y2="149.4" stroke="#000" stroke-width="0.65"/>
<line x1="413.0" y1="229.7" x2="571.8" y2="149.6" stroke="#000" stroke-width="0.66"/>
<line x1="444.8" y1="211.2" x2="543.0" y2="157.7" stroke="#000" stroke-width="0.50"/>
<line x1="415.3" y1="226.4" x2="535.8" y2="156.7" stroke="#000" stroke-width="0.61"/>
<line x1="431.6" y1="216.3" x2="532.3" y2="156.7" stroke="#000" stroke-width="0.65"/>
<line x1="405.3" y1="232.0" x2="526.2" y2="161.3" stroke="#000" stroke-width="0.55"/>
<line x1="390.0" y1="241.0" x2="520.9" y2="165.4" stroke="#000" stroke-width="0.46"/>
<line x1="399.3" y1="235.6" x2="517.9" y2="167.0" stroke="#000" stroke-width="0.58"/>
<line x1="430.2" y1="217.6" x2="512.2" y2="169.9" stroke="#000" stroke-width="0.57"/>
<line x1="421.9" y1="222.3" x2="506.6" y2="172.7" stroke="#000" stroke-width="0.61"/>
<line x1="400.6" y1="234.7" x2="502.0" y2="175.0" stroke="#000" stroke-width="0.66"/>
<line x1="418.0" y1="223.9" x2="495.5" y2="177.0" stroke="#000" stroke-width="0.56"/>
<line x1="409.4" y1="228.6" x2="489.5" y2="178.3" stroke="#000" stroke-width="0.57"/>
<line x1="394.6" y1="237.6" x2="483.5" y2="179.7" stroke="#000" stroke-width="0.53"/>
<line x1="380.0" y1="242.0" x2="498.0" y2="150.2" stroke="#000" stroke-width="0.55"/>
<line x1="382.0" y1="243.0" x2="499.7" y2="163.4" stroke="#000" stroke-width="0.55"/>
<line x1="386.0" y1="244.0" x2="531.8" y2="179.4" stroke="#000" stroke-width="0.55"/>
<line x1="383.8" y1="243.9" x2="533.0" y2="240.6" stroke="#000" stroke-width="0.60"/>
<line x1="383.8" y1="243.9" x2="546.0" y2="237.3" stroke="#000" stroke-width="0.50"/>
<line x1="383.8" y1="243.9" x2="470.0" y2="229.0" stroke="#000" stroke-width="0.50"/>
<line x1="440.8" y1="226.2" x2="558.2" y2="189.7" stroke="#000" stroke-width="0.53"/>
<line x1="428.2" y1="230.7" x2="562.2" y2="190.9" stroke="#000" stroke-width="0.53"/>
<line x1="425.8" y1="232.2" x2="567.9" y2="192.5" stroke="#000" stroke-width="0.65"/>
<line x1="467.1" y1="218.9" x2="529.5" y2="200.2" stroke="#000" stroke-width="0.62"/>
<line x1="460.0" y1="240.3" x2="539.6" y2="236.5" stroke="#000" stroke-width="0.63"/>
<line x1="457.7" y1="223.2" x2="527.4" y2="203.7" stroke="#000" stroke-width="0.56"/>
<line x1="441.5" y1="230.6" x2="531.7" y2="209.9" stroke="#000" stroke-width="0.74"/>
<line x1="453.3" y1="234.4" x2="538.2" y2="222.9" stroke="#000" stroke-width="0.64"/>
<line x1="457.5" y1="222.4" x2="536.2" y2="199.4" stroke="#000" stroke-width="0.72"/>
<line x1="451.4" y1="239.1" x2="536.4" y2="233.1" stroke="#000" stroke-width="0.72"/>
<line x1="446.1" y1="230.2" x2="539.2" y2="209.6" stroke="#000" stroke-width="0.76"/>
<line x1="458.5" y1="235.6" x2="544.3" y2="226.1" stroke="#000" stroke-width="0.70"/>
<line x1="451.9" y1="233.5" x2="529.9" y2="221.6" stroke="#000" stroke-width="0.69"/>
<line x1="453.4" y1="223.0" x2="546.8" y2="194.9" stroke="#000" stroke-width="0.71"/>
<line x1="446.8" y1="234.0" x2="532.4" y2="220.7" stroke="#000" stroke-width="0.64"/>
<line x1="450.7" y1="233.3" x2="538.5" y2="219.3" stroke="#000" stroke-width="0.78"/>
<line x1="458.3" y1="222.8" x2="544.5" y2="198.4" stroke="#000" stroke-width="0.62"/>
<line x1="463.8" y1="227.8" x2="521.8" y2="216.2" stroke="#000" stroke-width="0.66"/>
<line x1="461.7" y1="221.5" x2="549.1" y2="196.3" stroke="#000" stroke-width="0.66"/>
<line x1="457.3" y1="221.8" x2="540.6" y2="196.8" stroke="#000" stroke-width="0.72"/>
<line x1="455.7" y1="230.0" x2="541.0" y2="213.5" stroke="#000" stroke-width="0.66"/>
<line x1="463.7" y1="226.0" x2="526.9" y2="211.9" stroke="#000" stroke-width="0.71"/>
<line x1="459.3" y1="226.6" x2="524.9" y2="211.6" stroke="#000" stroke-width="0.80"/>
<line x1="448.8" y1="236.6" x2="525.5" y2="228.0" stroke="#000" stroke-width="0.72"/>
<line x1="453.9" y1="232.9" x2="522.1" y2="222.3" stroke="#000" stroke-width="0.81"/>
<line x1="453.7" y1="236.0" x2="524.2" y2="228.0" stroke="#000" stroke-width="0.82"/>
<line x1="459.2" y1="240.5" x2="522.7" y2="237.7" stroke="#000" stroke-width="0.84"/>
<line x1="452.8" y1="236.4" x2="522.7" y2="228.9" stroke="#000" stroke-width="0.83"/>
<line x1="463.0" y1="239.1" x2="531.0" y2="235.0" stroke="#000" stroke-width="0.77"/>
<line x1="468.8" y1="233.0" x2="524.8" y2="225.8" stroke="#000" stroke-width="0.79"/>
<line x1="467.3" y1="239.0" x2="530.8" y2="235.2" stroke="#000" stroke-width="0.69"/>
<line x1="452.2" y1="237.8" x2="543.0" y2="229.6" stroke="#000" stroke-width="0.71"/>
<line x1="453.8" y1="240.0" x2="528.0" y2="235.9" stroke="#000" stroke-width="0.68"/>
<line x1="452.5" y1="236.8" x2="520.3" y2="229.7" stroke="#000" stroke-width="0.82"/>
<line x1="452.5" y1="235.5" x2="524.7" y2="226.8" stroke="#000" stroke-width="0.74"/>
<line x1="463.4" y1="235.6" x2="536.2" y2="228.1" stroke="#000" stroke-width="0.71"/>
<line x1="467.0" y1="240.0" x2="519.1" y2="237.6" stroke="#000" stroke-width="0.85"/>
<line x1="400.3" y1="251.6" x2="527.7" y2="266.0" stroke="#000" stroke-width="0.50"/>
<line x1="400.3" y1="251.6" x2="571.0" y2="291.0" stroke="#000" stroke-width="0.60"/>
<line x1="489.2" y1="271.5" x2="540.6" y2="283.1" stroke="#000" stroke-width="0.69"/>
<line x1="442.6" y1="260.3" x2="533.4" y2="278.9" stroke="#000" stroke-width="0.73"/>
<line x1="456.4" y1="263.2" x2="536.6" y2="279.8" stroke="#000" stroke-width="0.45"/>
<line x1="484.1" y1="266.4" x2="540.0" y2="276.2" stroke="#000" stroke-width="0.45"/>
<line x1="489.6" y1="271.6" x2="541.5" y2="283.3" stroke="#000" stroke-width="0.71"/>
<line x1="487.0" y1="269.3" x2="554.9" y2="283.1" stroke="#000" stroke-width="0.71"/>
<line x1="491.6" y1="271.3" x2="541.3" y2="282.1" stroke="#000" stroke-width="0.64"/>
<line x1="484.2" y1="268.2" x2="546.4" y2="280.5" stroke="#000" stroke-width="0.71"/>
<line x1="456.8" y1="262.9" x2="539.9" y2="279.5" stroke="#000" stroke-width="0.45"/>
<line x1="444.7" y1="260.3" x2="546.9" y2="280.2" stroke="#000" stroke-width="0.45"/>
<line x1="469.9" y1="265.2" x2="549.2" y2="280.7" stroke="#000" stroke-width="0.70"/>
<line x1="486.1" y1="265.2" x2="541.2" y2="273.9" stroke="#000" stroke-width="0.60"/>
<line x1="490.8" y1="270.4" x2="545.8" y2="281.8" stroke="#000" stroke-width="0.55"/>
<line x1="447.3" y1="262.3" x2="558.1" y2="287.6" stroke="#000" stroke-width="0.62"/>
<line x1="473.5" y1="263.3" x2="548.2" y2="275.3" stroke="#000" stroke-width="0.73"/>
<line x1="496.4" y1="269.2" x2="546.4" y2="278.4" stroke="#000" stroke-width="0.57"/>
<line x1="444.6" y1="261.5" x2="560.1" y2="287.4" stroke="#000" stroke-width="0.62"/>
<line x1="489.7" y1="268.0" x2="541.8" y2="277.6" stroke="#000" stroke-width="0.57"/>
<line x1="485.8" y1="268.5" x2="538.8" y2="279.0" stroke="#000" stroke-width="0.55"/>
<line x1="472.7" y1="265.4" x2="557.8" y2="281.5" stroke="#000" stroke-width="0.50"/>
<line x1="466.2" y1="266.0" x2="552.0" y2="284.8" stroke="#000" stroke-width="0.50"/>
<line x1="497.4" y1="270.7" x2="553.2" y2="281.6" stroke="#000" stroke-width="0.68"/>
<line x1="458.8" y1="262.3" x2="539.5" y2="277.1" stroke="#000" stroke-width="0.61"/>
<line x1="487.3" y1="269.5" x2="534.4" y2="279.2" stroke="#000" stroke-width="0.65"/>
<line x1="405.5" y1="255.5" x2="559.2" y2="309.4" stroke="#000" stroke-width="0.50"/>
<line x1="479.3" y1="289.3" x2="528.4" y2="311.7" stroke="#000" stroke-width="0.59"/>
<line x1="466.6" y1="277.0" x2="556.8" y2="308.7" stroke="#000" stroke-width="0.72"/>
<line x1="490.6" y1="291.8" x2="558.1" y2="320.6" stroke="#000" stroke-width="0.73"/>
<line x1="484.6" y1="288.8" x2="552.2" y2="317.2" stroke="#000" stroke-width="0.72"/>
<line x1="468.0" y1="282.3" x2="550.2" y2="317.7" stroke="#000" stroke-width="0.66"/>
<line x1="463.2" y1="280.9" x2="534.1" y2="312.1" stroke="#000" stroke-width="0.47"/>
<line x1="494.3" y1="294.8" x2="548.5" y2="318.7" stroke="#000" stroke-width="0.62"/>
<line x1="489.0" y1="293.0" x2="544.9" y2="318.0" stroke="#000" stroke-width="0.57"/>
<line x1="476.6" y1="282.8" x2="540.2" y2="307.3" stroke="#000" stroke-width="0.64"/>
<line x1="496.4" y1="294.0" x2="531.8" y2="309.1" stroke="#000" stroke-width="0.71"/>
<line x1="464.0" y1="276.3" x2="553.7" y2="308.1" stroke="#000" stroke-width="0.71"/>
<line x1="475.3" y1="287.8" x2="526.8" y2="311.6" stroke="#000" stroke-width="0.62"/>
<line x1="497.0" y1="293.7" x2="561.4" y2="320.6" stroke="#000" stroke-width="0.66"/>
<line x1="464.4" y1="278.9" x2="551.2" y2="313.3" stroke="#000" stroke-width="0.55"/>
<line x1="460.3" y1="275.7" x2="529.5" y2="301.1" stroke="#000" stroke-width="0.76"/>
<line x1="497.0" y1="288.8" x2="531.9" y2="301.6" stroke="#000" stroke-width="0.84"/>
<line x1="460.3" y1="275.5" x2="551.5" y2="308.8" stroke="#000" stroke-width="0.56"/>
<line x1="466.7" y1="282.2" x2="530.4" y2="310.0" stroke="#000" stroke-width="0.80"/>
<line x1="492.6" y1="293.3" x2="551.7" y2="318.9" stroke="#000" stroke-width="0.49"/>
<line x1="487.7" y1="290.2" x2="544.6" y2="314.3" stroke="#000" stroke-width="0.87"/>
<line x1="497.5" y1="290.4" x2="552.3" y2="311.2" stroke="#000" stroke-width="0.46"/>
<line x1="484.4" y1="283.3" x2="553.7" y2="307.7" stroke="#000" stroke-width="0.49"/>
<line x1="488.6" y1="287.5" x2="535.5" y2="305.6" stroke="#000" stroke-width="0.84"/>
<line x1="463.0" y1="278.7" x2="543.0" y2="311.1" stroke="#000" stroke-width="0.71"/>
<line x1="487.1" y1="288.1" x2="535.7" y2="307.5" stroke="#000" stroke-width="0.81"/>
<line x1="485.5" y1="286.8" x2="550.4" y2="312.2" stroke="#000" stroke-width="0.64"/>
<line x1="491.1" y1="289.2" x2="560.4" y2="316.5" stroke="#000" stroke-width="0.80"/>
<line x1="471.9" y1="283.0" x2="533.0" y2="308.3" stroke="#000" stroke-width="0.89"/>
<line x1="491.6" y1="292.8" x2="539.5" y2="313.5" stroke="#000" stroke-width="0.72"/>
<line x1="489.3" y1="294.9" x2="543.7" y2="320.5" stroke="#000" stroke-width="0.59"/>
<line x1="495.3" y1="291.3" x2="542.9" y2="310.2" stroke="#000" stroke-width="0.76"/>
<line x1="495.3" y1="293.1" x2="555.9" y2="318.5" stroke="#000" stroke-width="0.58"/>
<line x1="469.4" y1="277.9" x2="541.5" y2="303.2" stroke="#000" stroke-width="0.71"/>
<line x1="492.9" y1="294.6" x2="529.1" y2="310.8" stroke="#000" stroke-width="0.82"/>
<line x1="410.8" y1="258.0" x2="522.4" y2="323.8" stroke="#000" stroke-width="0.50"/>
<line x1="409.3" y1="260.0" x2="551.8" y2="354.6" stroke="#000" stroke-width="0.55"/>
<line x1="409.3" y1="260.0" x2="430.4" y2="283.4" stroke="#000" stroke-width="0.70"/>
<line x1="430.4" y1="283.4" x2="537.8" y2="353.4" stroke="#000" stroke-width="0.75"/>
<line x1="430.4" y1="283.4" x2="539.0" y2="362.8" stroke="#000" stroke-width="0.75"/>
<line x1="430.4" y1="283.4" x2="523.8" y2="364.0" stroke="#000" stroke-width="0.75"/>
<line x1="430.4" y1="283.4" x2="537.8" y2="381.5" stroke="#000" stroke-width="0.75"/>
<line x1="430.4" y1="283.4" x2="522.6" y2="376.8" stroke="#000" stroke-width="0.75"/>
<line x1="430.4" y1="283.4" x2="523.8" y2="388.5" stroke="#000" stroke-width="0.75"/>
<line x1="430.4" y1="283.4" x2="516.8" y2="393.0" stroke="#000" stroke-width="0.75"/>
<line x1="430.4" y1="283.4" x2="509.8" y2="376.8" stroke="#000" stroke-width="0.75"/>
<line x1="430.4" y1="283.4" x2="530.0" y2="370.0" stroke="#000" stroke-width="0.75"/>
<line x1="430.4" y1="283.4" x2="535.0" y2="358.0" stroke="#000" stroke-width="0.75"/>
<line x1="430.4" y1="283.4" x2="512.0" y2="421.0" stroke="#000" stroke-width="0.75"/>
<line x1="430.4" y1="283.4" x2="523.8" y2="414.0" stroke="#000" stroke-width="0.75"/>
<line x1="501.4" y1="330.0" x2="537.9" y2="354.0" stroke="#000" stroke-width="0.55"/>
<line x1="499.5" y1="329.4" x2="538.0" y2="355.0" stroke="#000" stroke-width="0.77"/>
<line x1="476.2" y1="314.1" x2="538.1" y2="355.7" stroke="#000" stroke-width="0.73"/>
<line x1="497.8" y1="329.1" x2="538.2" y2="356.5" stroke="#000" stroke-width="0.53"/>
<line x1="495.5" y1="328.2" x2="538.3" y2="357.7" stroke="#000" stroke-width="0.52"/>
<line x1="498.0" y1="330.3" x2="538.4" y2="358.4" stroke="#000" stroke-width="0.61"/>
<line x1="499.8" y1="332.1" x2="538.6" y2="359.3" stroke="#000" stroke-width="0.53"/>
<line x1="502.9" y1="335.0" x2="538.7" y2="360.5" stroke="#000" stroke-width="0.63"/>
<line x1="492.9" y1="328.4" x2="538.8" y2="361.4" stroke="#000" stroke-width="0.52"/>
<line x1="496.6" y1="331.5" x2="538.9" y2="362.1" stroke="#000" stroke-width="0.65"/>
<line x1="462.3" y1="334.7" x2="500.6" y2="396.2" stroke="#000" stroke-width="0.47"/>
<line x1="460.0" y1="331.4" x2="502.3" y2="399.9" stroke="#000" stroke-width="0.67"/>
<line x1="455.7" y1="324.7" x2="503.4" y2="402.3" stroke="#000" stroke-width="0.57"/>
<line x1="453.1" y1="320.5" x2="504.5" y2="404.6" stroke="#000" stroke-width="0.80"/>
<line x1="464.1" y1="338.9" x2="506.0" y2="408.0" stroke="#000" stroke-width="0.54"/>
<line x1="463.2" y1="337.8" x2="507.2" y2="410.6" stroke="#000" stroke-width="0.72"/>
<line x1="476.4" y1="360.0" x2="508.5" y2="413.4" stroke="#000" stroke-width="0.46"/>
<line x1="458.3" y1="330.1" x2="509.3" y2="415.1" stroke="#000" stroke-width="0.47"/>
<line x1="475.5" y1="359.2" x2="510.8" y2="418.4" stroke="#000" stroke-width="0.78"/>
<line x1="456.7" y1="327.2" x2="512.7" y2="420.6" stroke="#000" stroke-width="0.59"/>
<line x1="479.6" y1="363.5" x2="514.1" y2="419.8" stroke="#000" stroke-width="0.65"/>
<line x1="481.5" y1="362.2" x2="517.5" y2="417.7" stroke="#000" stroke-width="0.59"/>
<line x1="461.5" y1="329.7" x2="519.8" y2="416.4" stroke="#000" stroke-width="0.80"/>
<line x1="459.0" y1="324.4" x2="522.1" y2="415.0" stroke="#000" stroke-width="0.57"/>
<line x1="490.1" y1="383.0" x2="512.6" y2="420.6" stroke="#000" stroke-width="0.47"/>
<line x1="486.6" y1="376.0" x2="513.4" y2="420.2" stroke="#000" stroke-width="0.79"/>
<line x1="475.2" y1="356.6" x2="513.9" y2="419.9" stroke="#000" stroke-width="0.78"/>
<line x1="479.0" y1="361.4" x2="515.0" y2="419.2" stroke="#000" stroke-width="0.72"/>
<line x1="479.9" y1="362.1" x2="515.6" y2="418.9" stroke="#000" stroke-width="0.49"/>
<line x1="477.1" y1="356.5" x2="516.6" y2="418.3" stroke="#000" stroke-width="0.50"/>
<line x1="474.3" y1="351.0" x2="517.6" y2="417.7" stroke="#000" stroke-width="0.52"/>
<line x1="494.6" y1="381.5" x2="518.1" y2="417.4" stroke="#000" stroke-width="0.78"/>
<line x1="494.6" y1="379.6" x2="519.3" y2="416.6" stroke="#000" stroke-width="0.61"/>
<line x1="495.9" y1="380.8" x2="519.8" y2="416.4" stroke="#000" stroke-width="0.67"/>
<line x1="483.3" y1="360.8" x2="520.8" y2="415.8" stroke="#000" stroke-width="0.62"/>
<line x1="479.3" y1="354.0" x2="521.8" y2="415.2" stroke="#000" stroke-width="0.47"/>
<line x1="489.3" y1="367.2" x2="522.6" y2="414.7" stroke="#000" stroke-width="0.75"/>
<line x1="486.4" y1="362.3" x2="523.3" y2="414.3" stroke="#000" stroke-width="0.54"/>
<line x1="469.2" y1="331.5" x2="519.2" y2="393.5" stroke="#000" stroke-width="0.62"/>
<line x1="476.2" y1="359.6" x2="503.5" y2="405.0" stroke="#000" stroke-width="0.79"/>
<line x1="473.4" y1="351.4" x2="503.5" y2="399.0" stroke="#000" stroke-width="0.52"/>
<line x1="463.4" y1="335.6" x2="509.5" y2="408.6" stroke="#000" stroke-width="0.52"/>
<line x1="478.8" y1="364.6" x2="511.4" y2="419.3" stroke="#000" stroke-width="0.77"/>
<line x1="459.9" y1="330.5" x2="505.9" y2="403.9" stroke="#000" stroke-width="0.47"/>
<line x1="467.2" y1="332.3" x2="525.1" y2="409.3" stroke="#000" stroke-width="0.46"/>
<line x1="469.1" y1="332.4" x2="518.4" y2="394.8" stroke="#000" stroke-width="0.45"/>
<line x1="474.7" y1="338.6" x2="519.2" y2="394.1" stroke="#000" stroke-width="0.60"/>
<line x1="466.2" y1="325.9" x2="524.3" y2="394.7" stroke="#000" stroke-width="0.50"/>
<line x1="471.7" y1="350.4" x2="505.9" y2="405.9" stroke="#000" stroke-width="0.52"/>
<line x1="455.2" y1="322.8" x2="503.4" y2="399.5" stroke="#000" stroke-width="0.62"/>
<line x1="459.1" y1="330.8" x2="506.8" y2="409.4" stroke="#000" stroke-width="0.70"/>
<line x1="476.1" y1="341.1" x2="519.1" y2="395.3" stroke="#000" stroke-width="0.47"/>
<line x1="470.5" y1="336.5" x2="522.7" y2="405.7" stroke="#000" stroke-width="0.47"/>
<line x1="469.0" y1="332.1" x2="525.2" y2="403.1" stroke="#000" stroke-width="0.75"/>
<line x1="290.0" y1="227.5" x2="360.2" y2="428.0" stroke="#000" stroke-width="0.70"/>
<line x1="296.3" y1="227.5" x2="347.2" y2="364.0" stroke="#000" stroke-width="0.60"/>
<line x1="300.0" y1="227.5" x2="317.6" y2="277.6" stroke="#000" stroke-width="1.30"/>
<line x1="317.6" y1="277.6" x2="362.5" y2="385.0" stroke="#000" stroke-width="0.52"/>
<line x1="317.8" y1="278.2" x2="363.1" y2="383.9" stroke="#000" stroke-width="0.57"/>
<line x1="317.7" y1="277.9" x2="363.4" y2="383.3" stroke="#000" stroke-width="0.54"/>
<line x1="318.1" y1="278.7" x2="363.8" y2="382.5" stroke="#000" stroke-width="0.53"/>
<line x1="318.3" y1="279.1" x2="364.3" y2="381.5" stroke="#000" stroke-width="0.58"/>
<line x1="318.3" y1="279.1" x2="364.8" y2="380.5" stroke="#000" stroke-width="0.56"/>
<line x1="318.4" y1="279.4" x2="365.2" y2="379.7" stroke="#000" stroke-width="0.52"/>
<line x1="156.2" y1="157.4" x2="162.3" y2="162.6" stroke="#ff0000" stroke-width="1.20"/>
<line x1="199.4" y1="323.4" x2="199.4" y2="343.0" stroke="#ff0000" stroke-width="1.50"/>
<line x1="512.2" y1="238.2" x2="529.7" y2="238.7" stroke="#ff0000" stroke-width="1.30"/>
<line x1="500.1" y1="270.0" x2="533.0" y2="275.2" stroke="#ff0000" stroke-width="1.60"/>
<line x1="546.0" y1="321.2" x2="555.3" y2="326.0" stroke="#ff0000" stroke-width="1.60"/>
<line x1="507.5" y1="411.0" x2="513.0" y2="423.0" stroke="#ff0000" stroke-width="1.50"/>
</g>
<g id="treelabels" font-size="12" stroke="#000" stroke-width="0.25">
<text x="-0.8" y="30.4" font-size="25.5" stroke-width="0">(a)</text>
<text x="143.4" y="126">Mammals</text>
<text x="102.5" y="154.8" fill="#ff0000" stroke="#ff0000" font-weight="bold" font-style="italic">Human</text>
<text x="70.9" y="218.4">Birds &amp;</text>
<text x="70.9" y="232.5">reptiles</text>
<text x="64.6" y="272.4">Amphibians</text>
<text x="225.4" y="330.8">Sharks &amp;</text>
<text x="227" y="344.7">relatives</text>
<text x="201.2" y="365.5" fill="#ff0000" stroke="#ff0000" font-style="italic">Zebrafish</text>
<text x="106.9" y="383.5">Ray-finned fishes</text>
<text x="208.2" y="206" font-size="15.4">Vertebrates</text>
<text x="334.6" y="285.7" font-size="15.4">Arthropods</text>
<text x="533.3" y="22.8">Arachnids</text>
<text x="501.4" y="89.7">Crustaceans</text>
<text x="527.6" y="129.5">Polyneopterans &amp;</text>
<text x="541.2" y="143.8">Hemipterans</text>
<text x="562.1" y="211.7">Bees, ants &amp;</text>
<text x="579" y="226.1">wasps</text>
<text x="543.4" y="243.5" fill="#ff0000" stroke="#ff0000" font-style="italic">Honey bee</text>
<text x="556.1" y="272.4" fill="#ff0000" stroke="#ff0000" font-style="italic">Red flour beetle</text>
<text x="573" y="290">Beetles</text>
<text x="568.2" y="315.2">Moths &amp;</text>
<text x="564.6" y="329.7">butterflies</text>
<text x="555.4" y="343" fill="#ff0000" stroke="#ff0000" font-style="italic">Silkworm</text>
<text x="548.2" y="387.9">Flies &amp;</text>
<text x="535.8" y="402">mosquitoes</text>
<text x="489.4" y="438" fill="#ff0000" stroke="#ff0000" font-weight="bold" font-style="italic">Fruit fly</text>
</g>
<text x="-0.7" y="473.5" font-size="25.5">(b)</text>
<polyline points="212,577.3 33.6,577.3 33.6,560" fill="none" stroke="#bfbfbf" stroke-width="1.6"/>
<line x1="33.6" y1="560" x2="33.6" y2="549.5" stroke="#bfbfbf" stroke-width="1.6"/>
<polygon points="33.6,543.5 37.8,551.5 29.4,551.5" fill="#bfbfbf"/>
<line x1="212" y1="532" x2="197.6" y2="532" stroke="#bfbfbf" stroke-width="1.6"/>
<polygon points="191.6,532 199.6,527.8 199.6,536.2" fill="#bfbfbf"/>
<line x1="85" y1="532" x2="70.5" y2="532" stroke="#bfbfbf" stroke-width="1.6"/>
<polygon points="64.5,532 72.5,527.8 72.5,536.2" fill="#bfbfbf"/>
<rect x="3" y="521.6" width="61.0" height="21.0" rx="3" fill="#4472c4"/>
<text x="33.5" y="536.7" font-size="11.5" fill="#fff" stroke="#fff" stroke-width="0.15" text-anchor="middle" font-style="italic">Human</text>
<rect x="85" y="521.6" width="106.0" height="21.0" rx="3" fill="#7f7f7f"/>
<text x="138.0" y="536.7" font-size="11.5" fill="#fff" stroke="#fff" stroke-width="0.15" text-anchor="middle" font-style="italic">Zebrafish</text>
<rect x="212" y="515.2" width="125.5" height="33.3" rx="3" fill="#ed7d31"/>
<text x="274.8" y="529.2" font-size="11.5" fill="#fff" stroke="#fff" stroke-width="0.15" text-anchor="middle">Ray-finned fishes</text>
<text x="274.8" y="543.8" font-size="11.5" fill="#fff" stroke="#fff" stroke-width="0.15" text-anchor="middle">Sharks &amp; relatives</text>
<rect x="212" y="566" width="125.5" height="21.3" rx="3" fill="#ed7d31"/>
<text x="274.8" y="581.3" font-size="11.5" fill="#fff" stroke="#fff" stroke-width="0.15" text-anchor="middle">All other vertebrates</text>
<polyline points="212,791.5 33.6,791.5 33.6,700" fill="none" stroke="#bfbfbf" stroke-width="1.6"/>
<line x1="33.6" y1="700" x2="33.6" y2="677.5" stroke="#bfbfbf" stroke-width="1.6"/>
<polygon points="33.6,671.5 37.8,679.5 29.4,679.5" fill="#bfbfbf"/>
<line x1="86.1" y1="703.6" x2="70.7" y2="676.7" stroke="#bfbfbf" stroke-width="1.6"/>
<polygon points="67.7,671.5 75.3,676.4 68.0,680.5" fill="#bfbfbf"/>
<line x1="86.1" y1="747.4" x2="52.8" y2="677.5" stroke="#bfbfbf" stroke-width="1.6"/>
<polygon points="50.2,672.1 57.4,677.5 49.9,681.1" fill="#bfbfbf"/>
<line x1="85.5" y1="660.6" x2="70.8" y2="660.6" stroke="#bfbfbf" stroke-width="1.6"/>
<polygon points="64.8,660.6 72.8,656.4 72.8,664.8000000000001" fill="#bfbfbf"/>
<line x1="212" y1="660.6" x2="197.6" y2="660.6" stroke="#bfbfbf" stroke-width="1.6"/>
<polygon points="191.6,660.6 199.6,656.4 199.6,664.8000000000001" fill="#bfbfbf"/>
<line x1="212" y1="704.3" x2="197.6" y2="704.3" stroke="#bfbfbf" stroke-width="1.6"/>
<polygon points="191.6,704.3 199.6,700.0999999999999 199.6,708.5" fill="#bfbfbf"/>
<line x1="212" y1="748" x2="197.6" y2="748" stroke="#bfbfbf" stroke-width="1.6"/>
<polygon points="191.6,748 199.6,743.8 199.6,752.2" fill="#bfbfbf"/>
<rect x="3" y="650.5" width="60.6" height="20.2" rx="3" fill="#4472c4"/>
<text x="33.3" y="665.2" font-size="11.5" fill="#fff" stroke="#fff" stroke-width="0.15" text-anchor="middle" font-style="italic">Fruit fly</text>
<rect x="85.5" y="650.5" width="105.7" height="20.2" rx="3" fill="#7f7f7f"/>
<text x="138.3" y="665.2" font-size="11.5" fill="#fff" stroke="#fff" stroke-width="0.15" text-anchor="middle" font-style="italic">Honeybee</text>
<rect x="85.5" y="694" width="105.7" height="20.7" rx="3" fill="#7f7f7f"/>
<text x="138.3" y="709.0" font-size="11.5" fill="#fff" stroke="#fff" stroke-width="0.15" text-anchor="middle" font-style="italic">Red flour beetle</text>
<rect x="85.5" y="737.8" width="105.7" height="21.0" rx="3" fill="#7f7f7f"/>
<text x="138.3" y="752.9" font-size="11.5" fill="#fff" stroke="#fff" stroke-width="0.15" text-anchor="middle" font-style="italic">Silkworm</text>
<rect x="212" y="644.1" width="125.7" height="33.3" rx="3" fill="#ed7d31"/>
<text x="274.9" y="658.1" font-size="11.5" fill="#fff" stroke="#fff" stroke-width="0.15" text-anchor="middle">Bees, ants &amp; wasps</text>
<text x="274.9" y="672.7" font-size="11.5" fill="#fff" stroke="#fff" stroke-width="0.15" text-anchor="middle">(Hymenoptera)</text>
<rect x="212" y="687.6" width="125.7" height="33.3" rx="3" fill="#ed7d31"/>
<text x="274.9" y="701.6" font-size="11.5" fill="#fff" stroke="#fff" stroke-width="0.15" text-anchor="middle">Beetles</text>
<text x="274.9" y="716.2" font-size="11.5" fill="#fff" stroke="#fff" stroke-width="0.15" text-anchor="middle">(Coleoptera)</text>
<rect x="212" y="731.1" width="125.7" height="33.6" rx="3" fill="#ed7d31"/>
<text x="274.9" y="745.2" font-size="11.5" fill="#fff" stroke="#fff" stroke-width="0.15" text-anchor="middle">Moths &amp; butterflies</text>
<text x="274.9" y="759.8" font-size="11.5" fill="#fff" stroke="#fff" stroke-width="0.15" text-anchor="middle">(Lepidoptera)</text>
<rect x="212" y="782.5" width="125.7" height="20.0" rx="3" fill="#ed7d31"/>
<text x="274.9" y="797.1" font-size="11.5" fill="#fff" stroke="#fff" stroke-width="0.15" text-anchor="middle">All other arthropods</text>
<line x1="338.5" y1="532" x2="383" y2="532" stroke="#c8c8c8" stroke-width="0.9" stroke-dasharray="1.2,1.2"/>
<line x1="338.5" y1="577" x2="383" y2="577" stroke="#c8c8c8" stroke-width="0.9" stroke-dasharray="1.2,1.2"/>
<line x1="338.5" y1="661" x2="383" y2="661" stroke="#c8c8c8" stroke-width="0.9" stroke-dasharray="1.2,1.2"/>
<line x1="338.5" y1="704.3" x2="383" y2="704.3" stroke="#c8c8c8" stroke-width="0.9" stroke-dasharray="1.2,1.2"/>
<line x1="338.5" y1="748" x2="383" y2="748" stroke="#c8c8c8" stroke-width="0.9" stroke-dasharray="1.2,1.2"/>
<line x1="338.5" y1="792.5" x2="383" y2="792.5" stroke="#c8c8c8" stroke-width="0.9" stroke-dasharray="1.2,1.2"/>
<rect x="64" y="814.6" width="16.7" height="13" rx="2" fill="#4472c4"/>
<text x="85.9" y="824.8" font-size="13.5" stroke="#000" stroke-width="0.2">Anchor (model)</text>
<rect x="64" y="839.4" width="16.7" height="13" rx="2" fill="#7f7f7f"/>
<text x="85.9" y="849.6" font-size="13.5" stroke="#000" stroke-width="0.2">Transitive anchor</text>
<rect x="64" y="863.6" width="16.7" height="13" rx="2" fill="#ed7d31"/>
<text x="85.9" y="873.8" font-size="13.5" stroke="#000" stroke-width="0.2">Query (RefSeq genomes)</text>
<text x="370" y="473.5" font-size="25.5">(c)</text>
<text x="537.5" y="486" font-size="15.5" text-anchor="middle" stroke="#000" stroke-width="0.2">Orthologs (x1000)</text>
<line x1="386.0" y1="521.5" x2="386.0" y2="587.5" stroke="#d9d9d9" stroke-width="1"/>
<text x="386.0" y="509.3" font-size="13" text-anchor="middle" stroke="#000" stroke-width="0.2">0</text>
<line x1="419.1" y1="521.5" x2="419.1" y2="587.5" stroke="#d9d9d9" stroke-width="1"/>
<text x="419.1" y="509.3" font-size="13" text-anchor="middle" stroke="#000" stroke-width="0.2">2</text>
<line x1="452.2" y1="521.5" x2="452.2" y2="587.5" stroke="#d9d9d9" stroke-width="1"/>
<text x="452.2" y="509.3" font-size="13" text-anchor="middle" stroke="#000" stroke-width="0.2">4</text>
<line x1="485.3" y1="521.5" x2="485.3" y2="587.5" stroke="#d9d9d9" stroke-width="1"/>
<text x="485.3" y="509.3" font-size="13" text-anchor="middle" stroke="#000" stroke-width="0.2">6</text>
<line x1="518.4" y1="521.5" x2="518.4" y2="587.5" stroke="#d9d9d9" stroke-width="1"/>
<text x="518.4" y="509.3" font-size="13" text-anchor="middle" stroke="#000" stroke-width="0.2">8</text>
<line x1="551.5" y1="521.5" x2="551.5" y2="587.5" stroke="#d9d9d9" stroke-width="1"/>
<text x="551.5" y="509.3" font-size="13" text-anchor="middle" stroke="#000" stroke-width="0.2">10</text>
<line x1="584.6" y1="521.5" x2="584.6" y2="587.5" stroke="#d9d9d9" stroke-width="1"/>
<text x="584.6" y="509.3" font-size="13" text-anchor="middle" stroke="#000" stroke-width="0.2">12</text>
<line x1="617.7" y1="521.5" x2="617.7" y2="587.5" stroke="#d9d9d9" stroke-width="1"/>
<text x="617.7" y="509.3" font-size="13" text-anchor="middle" stroke="#000" stroke-width="0.2">14</text>
<line x1="650.8" y1="521.5" x2="650.8" y2="587.5" stroke="#d9d9d9" stroke-width="1"/>
<text x="650.8" y="509.3" font-size="13" text-anchor="middle" stroke="#000" stroke-width="0.2">16</text>
<rect x="386" y="525" width="145.6" height="15.0" fill="#4472c4" stroke="#1a1a1a" stroke-width="1"/>
<rect x="531.6" y="525" width="92.1" height="15.0" fill="#7f7f7f" stroke="#1a1a1a" stroke-width="1"/>
<text x="627.5" y="536.7" font-size="14" stroke="#000" stroke-width="0.2">(n=233)</text>
<rect x="386" y="568.3" width="241.5" height="15.1" fill="#4472c4" stroke="#1a1a1a" stroke-width="1"/>
<text x="630.7" y="580.0" font-size="14" stroke="#000" stroke-width="0.2">(n=456)</text>
<text x="543.3" y="617.3" font-size="15.5" text-anchor="middle" stroke="#000" stroke-width="0.2">Orthologs (x1000)</text>
<line x1="386.0" y1="649.8" x2="386.0" y2="802" stroke="#d9d9d9" stroke-width="1"/>
<text x="386.0" y="637.5" font-size="13" text-anchor="middle" stroke="#000" stroke-width="0.2">0</text>
<line x1="439.1" y1="649.8" x2="439.1" y2="802" stroke="#d9d9d9" stroke-width="1"/>
<text x="439.1" y="637.5" font-size="13" text-anchor="middle" stroke="#000" stroke-width="0.2">2</text>
<line x1="492.2" y1="649.8" x2="492.2" y2="802" stroke="#d9d9d9" stroke-width="1"/>
<text x="492.2" y="637.5" font-size="13" text-anchor="middle" stroke="#000" stroke-width="0.2">4</text>
<line x1="545.3" y1="649.8" x2="545.3" y2="802" stroke="#d9d9d9" stroke-width="1"/>
<text x="545.3" y="637.5" font-size="13" text-anchor="middle" stroke="#000" stroke-width="0.2">6</text>
<line x1="598.4" y1="649.8" x2="598.4" y2="802" stroke="#d9d9d9" stroke-width="1"/>
<text x="598.4" y="637.5" font-size="13" text-anchor="middle" stroke="#000" stroke-width="0.2">8</text>
<line x1="651.5" y1="649.8" x2="651.5" y2="802" stroke="#d9d9d9" stroke-width="1"/>
<text x="651.5" y="637.5" font-size="13" text-anchor="middle" stroke="#000" stroke-width="0.2">10</text>
<rect x="386" y="653.2" width="142.6" height="14.8" fill="#4472c4" stroke="#1a1a1a" stroke-width="1"/>
<rect x="528.6" y="653.2" width="78.9" height="14.8" fill="#7f7f7f" stroke="#1a1a1a" stroke-width="1"/>
<text x="612" y="664.8" font-size="14" stroke="#000" stroke-width="0.2">(n=88)</text>
<rect x="386" y="696.7" width="146.7" height="14.6" fill="#4472c4" stroke="#1a1a1a" stroke-width="1"/>
<rect x="532.7" y="696.7" width="108.8" height="14.6" fill="#7f7f7f" stroke="#1a1a1a" stroke-width="1"/>
<text x="644.5" y="708.2" font-size="14" stroke="#000" stroke-width="0.2">(n=43)</text>
<rect x="386" y="740.4" width="145.0" height="15.1" fill="#4472c4" stroke="#1a1a1a" stroke-width="1"/>
<rect x="531.0" y="740.4" width="65.7" height="15.1" fill="#7f7f7f" stroke="#1a1a1a" stroke-width="1"/>
<text x="602.6" y="752.2" font-size="14" stroke="#000" stroke-width="0.2">(n=22)</text>
<rect x="386" y="784.4" width="180.4" height="14.9" fill="#4472c4" stroke="#1a1a1a" stroke-width="1"/>
<text x="571.6" y="796.0" font-size="14" stroke="#000" stroke-width="0.2">(n=191)</text>
<rect x="411.7" y="817.5" width="17" height="14.2" rx="2.5" fill="#4472c4" stroke="#1a1a1a" stroke-width="1"/>
<text x="433.3" y="829.8" font-size="13.5" stroke="#000" stroke-width="0.2">Orthologs vs. Anchor</text>
<rect x="411.7" y="841.3" width="17" height="14.2" rx="2.5" fill="#7f7f7f" stroke="#1a1a1a" stroke-width="1"/>
<text x="433.3" y="853.6" font-size="13.5" stroke="#000" stroke-width="0.2">Orthologs vs. Transitive anchor</text>
</svg>
</body></html>
